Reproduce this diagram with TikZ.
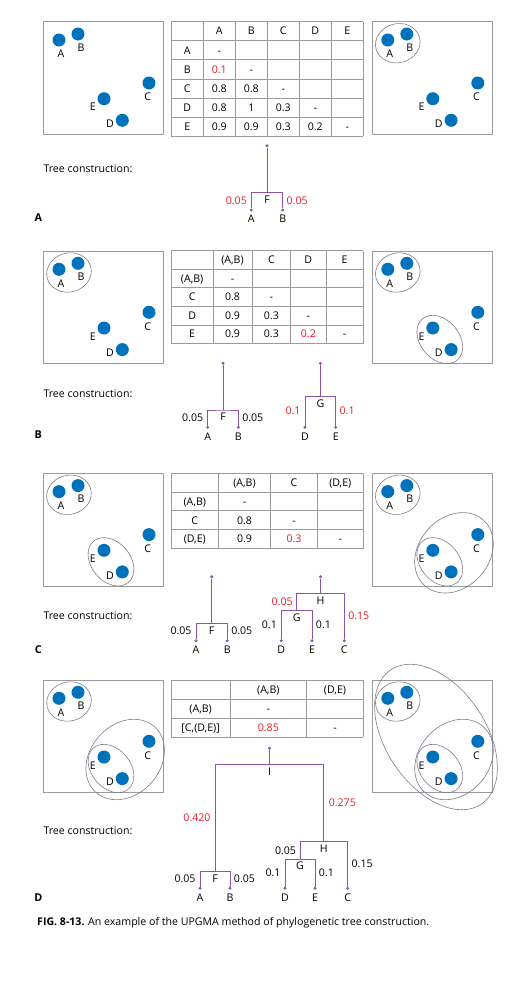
\documentclass[tikz,border=0pt]{standalone}
\usepackage{fontspec}
\setmainfont{Open Sans}
\usetikzlibrary{positioning}
\definecolor{dotblue}{RGB}{0,114,188}
\definecolor{hotred}{RGB}{232,30,40}
\definecolor{treepurple}{RGB}{140,84,166}
\definecolor{framegray}{RGB}{155,155,155}
\definecolor{ringgray}{RGB}{125,125,140}

\begin{document}
\begin{tikzpicture}[x=1pt,y=-1pt,
  frame/.style={draw=framegray,line width=0.9pt},
  rule/.style={draw=framegray,line width=0.7pt},
  grp/.style={draw=ringgray,line width=0.6pt},
  pt/.style={circle,fill=dotblue,inner sep=0pt,minimum size=13pt},
  txt/.style={inner sep=0pt,text height=7.5pt,text depth=0pt,font=\fontsize{10.6}{12}\selectfont},
  hot/.style={text=hotred},
  branch/.style={draw=treepurple,line width=0.9pt},
  tip/.style={circle,fill=treepurple,inner sep=0pt,minimum size=3.2pt},
  panel/.style={txt,font=\fontsize{10.8}{12}\selectfont\bfseries}]
  \fill[white] (0,0) rectangle (525,988);
  \useasboundingbox (0,0) rectangle (525,988);

  % point sets
  \foreach \i/\bx/\by in {1/43.5/21.7,2/372.3/21.7,3/43.5/251,4/372.3/251,5/43.5/473.3,6/372.3/473.3,7/43.5/680,8/372.3/680}{
    \begin{scope}[shift={(\bx,\by)}]
      \draw[frame] (0,0) rectangle (120,112.7);
      \foreach \n/\x/\y/\lx/\ly in {A/15.5/18.3/17.5/32.3,B/34.5/12.3/37.5/25.6,C/105.5/61.3/104.2/75.3,E/60.5/77/49.2/85.3,D/78.8/98.6/66.5/102}{
        \node[pt] (p\i\n) at (\x,\y) {};
        \node[txt] (q\i\n) at (\lx,\ly) {\n};
      }
    \end{scope}
  }
  \foreach \bx/\by in {372.3/21.7,43.5/251,372.3/251,43.5/473.3,372.3/473.3,43.5/680,372.3/680}
    \draw[grp,shift={(\bx+25.5,\by+21.5)},rotate=15] (0,0) ellipse [x radius=22.5,y radius=19.5];
  \foreach \bx/\by in {372.3/251,43.5/473.3,372.3/473.3,43.5/680,372.3/680}
    \draw[grp,shift={(\bx+67.5,\by+88.5)},rotate=-50] (0,0) ellipse [x radius=27,y radius=19.5];
  \foreach \bx/\by in {372.3/473.3,43.5/680,372.3/680}
    \draw[grp,shift={(\bx+81.7,\by+79.5)},rotate=48] (0,0) ellipse [x radius=44,y radius=35];
  \draw[grp,shift={(436,737)},rotate=-56] (0,0) ellipse [x radius=81,y radius=50];

  % distance tables
  \foreach \x in {171.3,203.3,235.3,267.3,299.3,331.3,363.3} \draw[rule] (\x,21.7) -- (\x,136);
  \foreach \y in {21.7,40.75,59.8,78.85,97.9,116.95,136} \draw[rule] (171.3,\y) -- (363.3,\y);
  \foreach \x/\r/\t/\k [count=\n] in {219.3/1/A/black,251.3/1/B/black,283.3/1/C/black,315.3/1/D/black,347.3/1/E/black,
      187.3/2/A/black,187.3/3/B/black,187.3/4/C/black,187.3/5/D/black,187.3/6/E/black,
      219.3/2/-/black,219.3/3/0.1/hotred,251.3/3/-/black,
      219.3/4/0.8/black,251.3/4/0.8/black,283.3/4/-/black,
      219.3/5/0.8/black,251.3/5/1/black,283.3/5/0.3/black,315.3/5/-/black,
      219.3/6/0.9/black,251.3/6/0.9/black,283.3/6/0.3/black,315.3/6/0.2/black,347.3/6/-/black}
    \node[txt,text=\k] (a\n) at (\x,{21.7+19.05*(\r-0.5)}) {\t};

  \foreach \x in {171.3,213,252,290.7,326,363.3} \draw[rule] (\x,250.5) -- (\x,343.5);
  \foreach \y in {250.5,269.1,287.7,306.3,324.9,343.5} \draw[rule] (171.3,\y) -- (363.3,\y);
  \foreach \x/\r/\t/\k [count=\n] in {232.5/1/{(A,B)}/black,271.35/1/C/black,308.35/1/D/black,344.65/1/E/black,
      192.15/2/{(A,B)}/black,192.15/3/C/black,192.15/4/D/black,192.15/5/E/black,
      232.5/2/-/black,
      232.5/3/0.8/black,271.35/3/-/black,
      232.5/4/0.9/black,271.35/4/0.3/black,308.35/4/-/black,
      232.5/5/0.9/black,271.35/5/0.3/black,308.35/5/0.2/hotred,344.65/5/-/black}
    \node[txt,text=\k] (b\n) at (\x,{250.5+18.6*(\r-0.5)}) {\t};

  \foreach \x in {171.3,218.3,270.7,317.3,363.3} \draw[rule] (\x,473) -- (\x,548.6);
  \foreach \y in {473,491.9,510.8,529.7,548.6} \draw[rule] (171.3,\y) -- (363.3,\y);
  \foreach \x/\r/\t/\k [count=\n] in {244.5/1/{(A,B)}/black,294/1/C/black,340.3/1/{(D,E)}/black,
      194.8/2/{(A,B)}/black,194.8/3/C/black,194.8/4/{(D,E)}/black,
      244.5/2/-/black,
      244.5/3/0.8/black,294/3/-/black,
      244.5/4/0.9/black,294/4/0.3/hotred,340.3/4/-/black}
    \node[txt,text=\k] (c\n) at (\x,{473+18.9*(\r-0.5)}) {\t};

  \foreach \x in {171.3,230,306.7,363.3} \draw[rule] (\x,680) -- (\x,737.3);
  \foreach \y in {680,699.1,718.2,737.3} \draw[rule] (171.3,\y) -- (363.3,\y);
  \foreach \x/\r/\t/\k [count=\n] in {268.35/1/{(A,B)}/black,335/1/{(D,E)}/black,
      200.65/2/{(A,B)}/black,200.65/3/{[C,(D,E)]}/black,
      268.35/2/-/black,
      268.35/3/0.85/hotred,335/3/-/black}
    \node[txt,text=\k] (d\n) at (\x,{680+19.1*(\r-0.5)}) {\t};

  % panel A tree
  \node[tip] (aFroot) at (267,145.7) {};
  \coordinate (aF) at (267,192.7);
  \node[tip] (aA) at (251.3,210) {};
  \node[tip] (aB) at (282.7,210) {};
  \draw[branch] (aFroot) -- (aF);
  \draw[branch] (aA) |- node[txt,hot,pos=.25,left=4pt] {0.05} (aF) -| node[txt,hot,pos=.75,right=3.5pt] {0.05} (aB);
  \node[txt,below=3.1pt] (aFt) at (aF) {F};
  \foreach \n in {A,B} \node[txt,below=5pt] (a\n t) at (a\n) {\n};

  % panel B trees
  \node[tip] (bFroot) at (223,363.3) {};
  \coordinate (bF) at (223,410);
  \node[tip] (bA) at (207.7,427.3) {};
  \node[tip] (bB) at (238.3,427.3) {};
  \draw[branch] (bFroot) -- (bF);
  \draw[branch] (bA) |- node[txt,pos=.25,left=4pt] {0.05} (bF) -| node[txt,pos=.75,right=3.5pt] {0.05} (bB);
  \node[tip] (bGroot) at (320.4,363.3) {};
  \coordinate (bG) at (320.4,396.7);
  \node[tip] (bD) at (305,427.3) {};
  \node[tip] (bE) at (335.7,427.3) {};
  \draw[branch] (bGroot) -- (bG);
  \draw[branch] (bD) |- node[txt,hot,pos=.25,left=4pt] {0.1} (bG) -| node[txt,hot,pos=.75,right=3.5pt] {0.1} (bE);
  \node[txt,below=3.1pt] (bFt) at (bF) {F};
  \node[txt,below=3.1pt] (bGt) at (bG) {G};
  \foreach \n in {A,B,D,E} \node[txt,below=5pt] (b\n t) at (b\n) {\n};

  % panel C trees
  \node[tip] (cFroot) at (211.7,576.7) {};
  \coordinate (cF) at (211.7,623.3);
  \node[tip] (cA) at (196,640.7) {};
  \node[tip] (cB) at (227.3,640.7) {};
  \draw[branch] (cFroot) -- (cF);
  \draw[branch] (cA) |- node[txt,pos=.25,left=4pt] {0.05} (cF) -| node[txt,pos=.75,right=3.5pt] {0.05} (cB);
  \node[tip] (cHroot) at (320.5,576.7) {};
  \coordinate (cH) at (320.5,593.3);
  \coordinate (cG) at (296.7,610.7);
  \node[tip] (cD) at (281.3,640.7) {};
  \node[tip] (cE) at (312,640.7) {};
  \node[tip] (cC) at (344.3,640.7) {};
  \draw[branch] (cHroot) -- (cH);
  \draw[branch] (cG) |- node[txt,hot,pos=.25,left=3.5pt] {0.05} (cH) -| node[txt,hot,pos=.75,right=3.5pt] {0.15} (cC);
  \draw[branch] (cD) |- node[txt,pos=.25,left=4pt] {0.1} (cG) -| node[txt,pos=.75,right=3.5pt] {0.1} (cE);
  \node[txt,below=3.1pt] (cFt) at (cF) {F};
  \node[txt,below=3.1pt] (cHt) at (cH) {H};
  \node[txt,below=3.1pt] (cGt) at (cG) {G};
  \foreach \n in {A,B,D,E,C} \node[txt,below=5pt] (c\n t) at (c\n) {\n};

  % panel D tree
  \node[tip] (dIroot) at (269.5,748.3) {};
  \coordinate (dI) at (269.5,764.3);
  \coordinate (dF) at (215,871.7);
  \coordinate (dH) at (323.8,841.7);
  \coordinate (dG) at (300,859);
  \node[tip] (dA) at (200,888.3) {};
  \node[tip] (dB) at (230,888.3) {};
  \node[tip] (dD) at (285,888.3) {};
  \node[tip] (dE) at (315,888.3) {};
  \node[tip] (dC) at (347.7,888.3) {};
  \draw[branch] (dIroot) -- (dI);
  \draw[branch] (dF) |- node[txt,hot,pos=.25,left=4pt] {0.420} (dI) -| node[txt,hot,pos=.75,right=4.5pt] {0.275} (dH);
  \draw[branch] (dA) |- node[txt,pos=.25,left=4pt] {0.05} (dF) -| node[txt,pos=.75,right=3.5pt] {0.05} (dB);
  \draw[branch] (dG) |- node[txt,pos=.25,left=3.5pt] {0.05} (dH) -| node[txt,pos=.75,right=3.5pt] {0.15} (dC);
  \draw[branch] (dD) |- node[txt,pos=.25,left=4pt] {0.1} (dG) -| node[txt,pos=.75,right=3.5pt] {0.1} (dE);
  \foreach \n in {I,F,H,G} \node[txt,below=3.1pt] (d\n t) at (d\n) {\n};
  \foreach \n in {A,B,D,E,C} \node[txt,below=5pt] (d\n l) at (d\n) {\n};

  % side texts
  \foreach \p/\y in {a/168.3,b/393.3,c/615.7,d/831}
    \node[txt,anchor=west] (\p tc) at (43.3,\y) {Tree construction:};
  \foreach \p/\y in {A/217.7,B/435,C/649.3,D/897.7}
    \node[panel] (lab\p) at (38.3,\y) {\p};
  \node[txt,anchor=west] (caption) at (37,922) {\textbf{FIG. 8-13.} An example of the UPGMA method of phylogenetic tree construction.};
\end{tikzpicture}
\end{document}
